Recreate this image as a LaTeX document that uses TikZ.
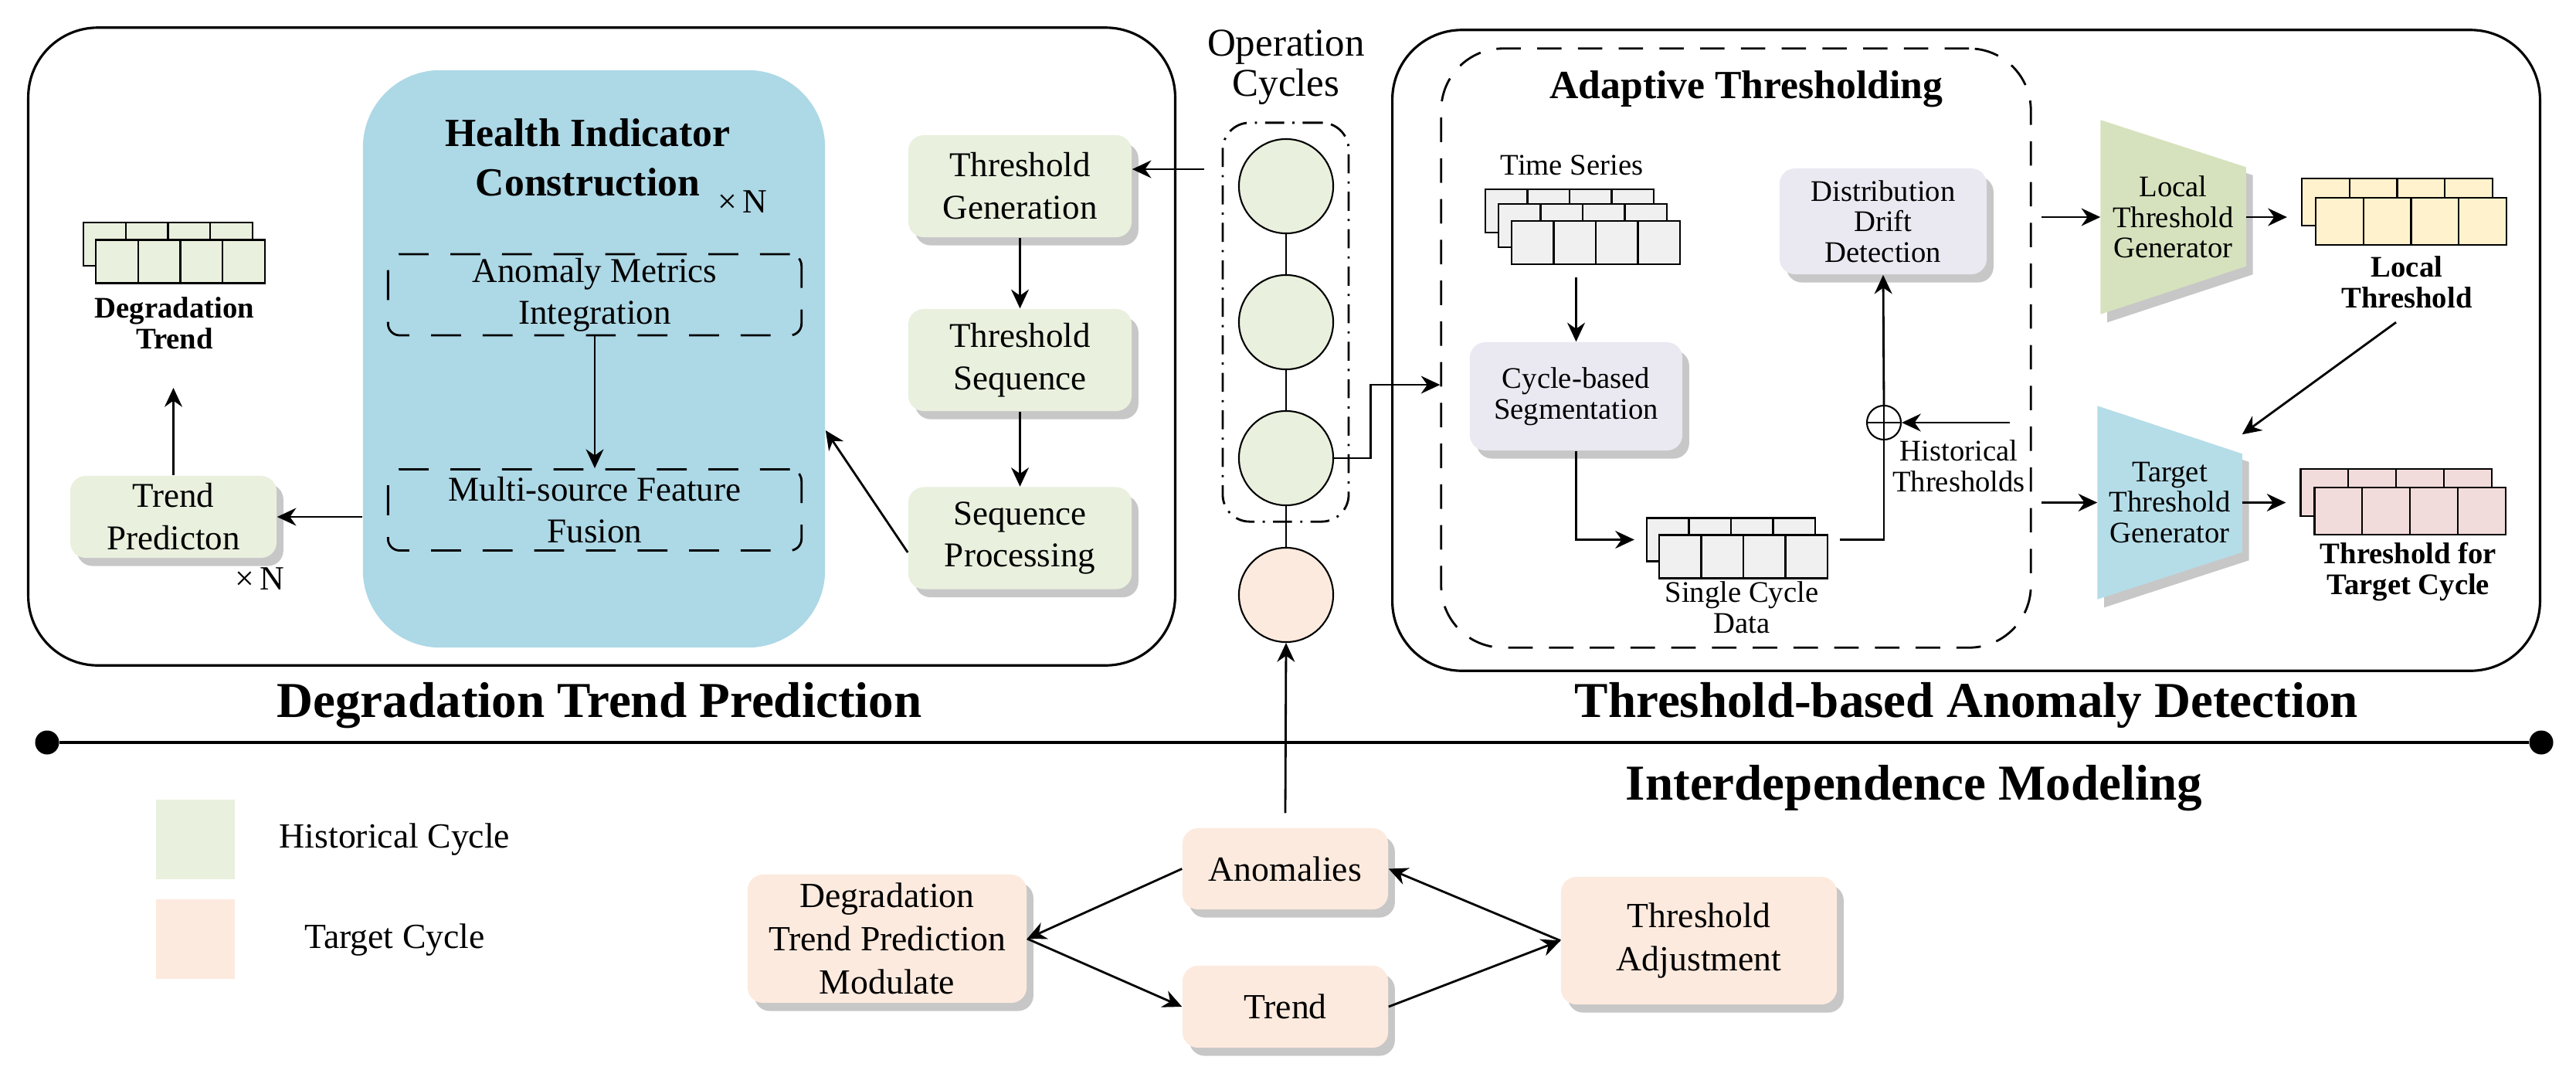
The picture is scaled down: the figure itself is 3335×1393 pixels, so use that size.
\documentclass[tikz,border=0pt]{standalone}
\usepackage{fontspec}
\setmainfont{Liberation Serif}
\usetikzlibrary{arrows.meta,shadows,calc,backgrounds}

\definecolor{histgreen}{HTML}{E9F0DE}
\definecolor{tgtpink}{HTML}{FDEADE}
\definecolor{hiblue}{HTML}{ADD8E6}
\definecolor{lavender}{HTML}{EAE8F1}
\definecolor{cellgray}{HTML}{F0F0F0}
\definecolor{localgreen}{HTML}{D6E2BD}
\definecolor{targetblue}{HTML}{B5DDE8}
\definecolor{cellyellow}{HTML}{FFF2CC}
\definecolor{cellpink}{HTML}{F2DCDB}

\tikzset{
  panel/.style={draw,line width=0.9pt,rounded corners=0.9cm,inner sep=0pt},
  softshadow/.style={drop shadow={shadow xshift=2.5pt,shadow yshift=-3pt,fill=black!55,opacity=0.4}},
  histbox/.style={fill=histgreen,rounded corners=0.2cm,softshadow,align=center,inner sep=0pt,
    minimum width=2.89cm,minimum height=1.32cm,font=\fontsize{12.8}{15.6}\selectfont},
  subbox/.style={draw,line width=0.8pt,dash pattern=on 11pt off 8pt,rounded corners=0.15cm,align=center,
    inner sep=0pt,minimum width=5.35cm,minimum height=1.05cm,font=\fontsize{12.8}{15.4}\selectfont},
  procbox/.style={fill=lavender,rounded corners=0.2cm,softshadow,align=center,inner sep=0pt,
    font=\fontsize{11}{11.3}\selectfont},
  tgtbox/.style={fill=tgtpink,rounded corners=0.2cm,softshadow,align=center,inner sep=0pt,
    font=\fontsize{13}{16}\selectfont},
  cyclenode/.style={circle,draw,line width=0.6pt,minimum size=1.22cm,inner sep=0pt},
  cellrow/.style={draw,line width=0.6pt,minimum width=2.18cm,minimum height=0.56cm,inner sep=0pt,
    path picture={\foreach \k in {1,2,3}{\draw[line width=0.6pt]
      ($(path picture bounding box.south west)!\k/4!(path picture bounding box.south east)$) --
      ($(path picture bounding box.north west)!\k/4!(path picture bounding box.north east)$);}}},
  smalltxt/.style={align=center,inner sep=0pt,font=\fontsize{11}{11.3}\selectfont},
  smallbold/.style={align=center,inner sep=0pt,font=\fontsize{11}{11.3}\selectfont\bfseries},
  bigtitle/.style={inner sep=0pt,font=\fontsize{18.5}{22}\selectfont\bfseries},
  midtitle/.style={align=center,inner sep=0pt,font=\fontsize{14.7}{18}\selectfont\bfseries},
  timesn/.style={inner sep=0pt,font=\fontsize{12.5}{12.5}\selectfont},
  flow/.style={->,line width=0.8pt},
}

\begin{document}
\begin{tikzpicture}[x=0.01cm,y=-0.01cm,>={Stealth[length=7pt,width=6.5pt]}]
\useasboundingbox (0,0) rectangle (3335,1393);
\node[panel,minimum width=14.84cm,minimum height=8.25cm] (dtp) at (779,448.5) {};
\node[panel,minimum width=14.85cm,minimum height=8.29cm] (tad) at (2545.5,453.5) {};

\node[fill=hiblue,rounded corners=1cm,minimum width=5.98cm,minimum height=7.47cm] (hic) at (769,464.5) {};
\node[midtitle] (hictitle) at (761,204) {Health Indicator\\Construction};
\node[timesn] (hicn) at (961,261) {×\,N};
\node[subbox] (ami) at (770,381.5) {Anomaly Metrics\\Integration};
\node[subbox] (msf) at (770,660) {Multi-source Feature\\Fusion};
\draw[flow] (ami) -- (msf);

\node[histbox] (thgen) at (1320.5,241) {Threshold\\Generation};
\node[histbox] (thseq) at (1320.5,466) {Threshold\\Sequence};
\node[histbox] (seqproc) at (1320.5,696.5) {Sequence\\Processing};
\node[histbox,minimum width=2.67cm,minimum height=1.06cm] (trendpred) at (224.5,669) {Trend\\Predicton};
\node[timesn] (tpn) at (336,749) {×\,N};
\node[cellrow,fill=histgreen] (dt1) at (217.5,316) {};
\node[cellrow,fill=histgreen] (dt2) at (233.5,338.5) {};
\node[smallbold] (dtlab) at (226,418) {Degradation\\Trend};
\coordinate (dttip) at (225,502);
\draw[flow] (trendpred.north) -- (trendpred.north |- dttip);
\draw[flow] (thgen) -- (thseq);
\draw[flow] (thseq) -- (seqproc);
\draw[flow] ([yshift=-0.185cm]seqproc.west) -- ([yshift=-0.925cm]hic.east);
\draw[flow] (trendpred.east -| hic.west) -- (trendpred.east);

\node[align=center,inner sep=0pt,font=\fontsize{14.5}{15}\selectfont] (optitle) at (1665,87) {Operation\\Cycles};
\node[draw,line width=0.8pt,dash pattern=on 7pt off 3pt on 0.8pt off 3pt,rounded corners=0.35cm,
  minimum width=1.63cm,minimum height=5.16cm] (ocbox) at (1664.5,417) {};
\node[cyclenode,fill=histgreen] (oc1) at (1665,241) {};
\node[cyclenode,fill=histgreen] (oc2) at (1665,417) {};
\node[cyclenode,fill=histgreen] (oc3) at (1665,593) {};
\node[cyclenode,fill=tgtpink] (oc4) at (1665,770) {};
\draw[line width=0.8pt] (oc1) -- (oc2) (oc2) -- (oc3) (oc3) -- (oc4);
\coordinate (thin) at (1559,219);
\draw[flow] (thin) -- (thin -| thgen.east);

\node[draw,line width=0.8pt,dash pattern=on 9pt off 6pt,rounded corners=0.8cm,
  minimum width=7.63cm,minimum height=7.75cm] (adbox) at (2247.5,450.5) {};
\node[midtitle] (adtitle) at (2261,115) {Adaptive Thresholding};
\draw[flow] (oc3.east) -- ++(47,0) |- ([yshift=-0.475cm]adbox.west);
\node[smalltxt] (tslab) at (2035,214) {Time Series};
\node[cellrow,fill=cellgray] (ts1) at (2032,273) {};
\node[cellrow,fill=cellgray] (ts2) at (2049,292) {};
\node[cellrow,fill=cellgray] (ts3) at (2066,314) {};
\node[procbox,minimum width=2.75cm,minimum height=1.4cm] (seg) at (2040.5,513) {Cycle-based\\Segmentation};
\draw[flow] ([yshift=-0.16cm]seg.north |- ts3.south) -- (seg.north);
\node[procbox,minimum width=2.68cm,minimum height=1.37cm] (ddd) at (2438,286.5) {Distribution\\Drift\\Detection};
\node[cellrow,fill=cellgray] (sc1) at (2241,698.5) {};
\node[cellrow,fill=cellgray] (sc2) at (2257,720.5) {};
\node[smalltxt] (sclab) at (2255,786) {Single Cycle\\Data};
\draw[flow] (seg.south) |- ([xshift=-0.15cm]sc1.west);
\node[circle,draw,line width=0.6pt,minimum size=0.44cm,inner sep=0pt] (plus) at (2439,547) {};
\draw[line width=0.6pt] (plus.north) -- (plus.south) (plus.west) -- (plus.east);
\draw[line width=0.8pt] ([xshift=0.15cm]sc2.east |- sc1.east) -| (plus.south);
\draw[flow] (plus.north) -- (ddd.south);
\coordinate (histin) at (2602,547);
\draw[flow] (histin) -- (plus.east);
\node[smalltxt] (histlab) at (2536,603) {Historical\\Thresholds};

\node[smalltxt,minimum width=1.87cm,minimum height=2.5cm] (ltg) at (2813.5,281) {Local\\Threshold\\Generator};
\node[smalltxt,minimum width=1.86cm,minimum height=2.49cm] (ttg) at (2809,650.5) {Target\\Threshold\\Generator};
\begin{scope}[on background layer]
\fill[localgreen,softshadow] (ltg.north west) -- ([yshift=-0.61cm]ltg.north east)
  -- ([yshift=0.62cm]ltg.south east) -- (ltg.south west) -- cycle;
\fill[targetblue,softshadow] (ttg.north west) -- ([yshift=-0.62cm]ttg.north east)
  -- ([yshift=0.61cm]ttg.south east) -- (ttg.south west) -- cycle;
\end{scope}
\coordinate (ltgsrc) at (2643,281);
\draw[flow] (ltgsrc) -- (ltg.west);
\node[cellrow,fill=cellyellow,minimum width=2.47cm,minimum height=0.61cm] (lt1) at (3103.5,261.5) {};
\node[cellrow,fill=cellyellow,minimum width=2.47cm,minimum height=0.61cm] (lt2) at (3121.5,286.5) {};
\draw[flow] (ltg.east) -- ([xshift=-0.18cm]ltg.east -| lt1.west);
\node[smallbold] (ltlab) at (3116,365) {Local\\Threshold};
\coordinate (ttgsrc) at (2643,650.5);
\draw[flow] (ttgsrc) -- (ttg.west);
\node[cellrow,fill=cellpink,minimum width=2.47cm,minimum height=0.61cm] (tc1) at (3102,637.5) {};
\node[cellrow,fill=cellpink,minimum width=2.47cm,minimum height=0.61cm] (tc2) at (3120,661.5) {};
\draw[flow] (ttg.east) -- ([xshift=-0.18cm]ttg.east -| tc1.west);
\node[smallbold] (tclab) at (3118,740) {Threshold for\\Target Cycle};
\draw[flow] ([xshift=-0.14cm,yshift=-0.18cm]ltlab.south) -- ([yshift=-0.37cm]ttg.north east);

\node[bigtitle] (dtptitle) at (776,913) {Degradation Trend Prediction};
\node[bigtitle] (tadtitle) at (2546,913) {Threshold-based Anomaly Detection};
\node[circle,fill,minimum size=0.31cm,inner sep=0pt] (axl) at (61,961) {};
\node[circle,fill,minimum size=0.31cm,inner sep=0pt] (axr) at (3290,961) {};
\draw[line width=1.4pt] (axl) -- (axr);
\node[bigtitle] (imtitle) at (2478,1020) {Interdependence Modeling};

\node[fill=histgreen,minimum width=1.02cm,minimum height=1.03cm] (lgh) at (253,1086.5) {};
\node[fill=tgtpink,minimum width=1.02cm,minimum height=1.03cm] (lgt) at (253,1215.5) {};
\node[inner sep=0pt,font=\fontsize{13}{16}\selectfont] (lghtxt) at (511,1087) {Historical Cycle};
\node[inner sep=0pt,font=\fontsize{13}{16}\selectfont] (lgttxt) at (511,1217) {Target Cycle};

\node[tgtbox,minimum width=2.66cm,minimum height=1.05cm] (anom) at (1664,1124.5) {Anomalies};
\node[tgtbox,minimum width=2.66cm,minimum height=1.06cm] (trend) at (1664,1303) {Trend};
\node[tgtbox,minimum width=3.61cm,minimum height=1.66cm] (dtpm) at (1148.5,1215) {Degradation\\Trend Prediction\\Modulate};
\node[tgtbox,minimum width=3.57cm,minimum height=1.65cm] (tadj) at (2199.5,1217.5) {Threshold\\Adjustment};
\draw[flow] (anom.west) -- (dtpm.east);
\draw[flow] (dtpm.east) -- (trend.west);
\draw[flow] (trend.east) -- (tadj.west);
\draw[flow] (tadj.west) -- (anom.east);
\draw[flow] ([yshift=0.19cm]anom.north) -- (oc4.south);
\end{tikzpicture}
\end{document}
